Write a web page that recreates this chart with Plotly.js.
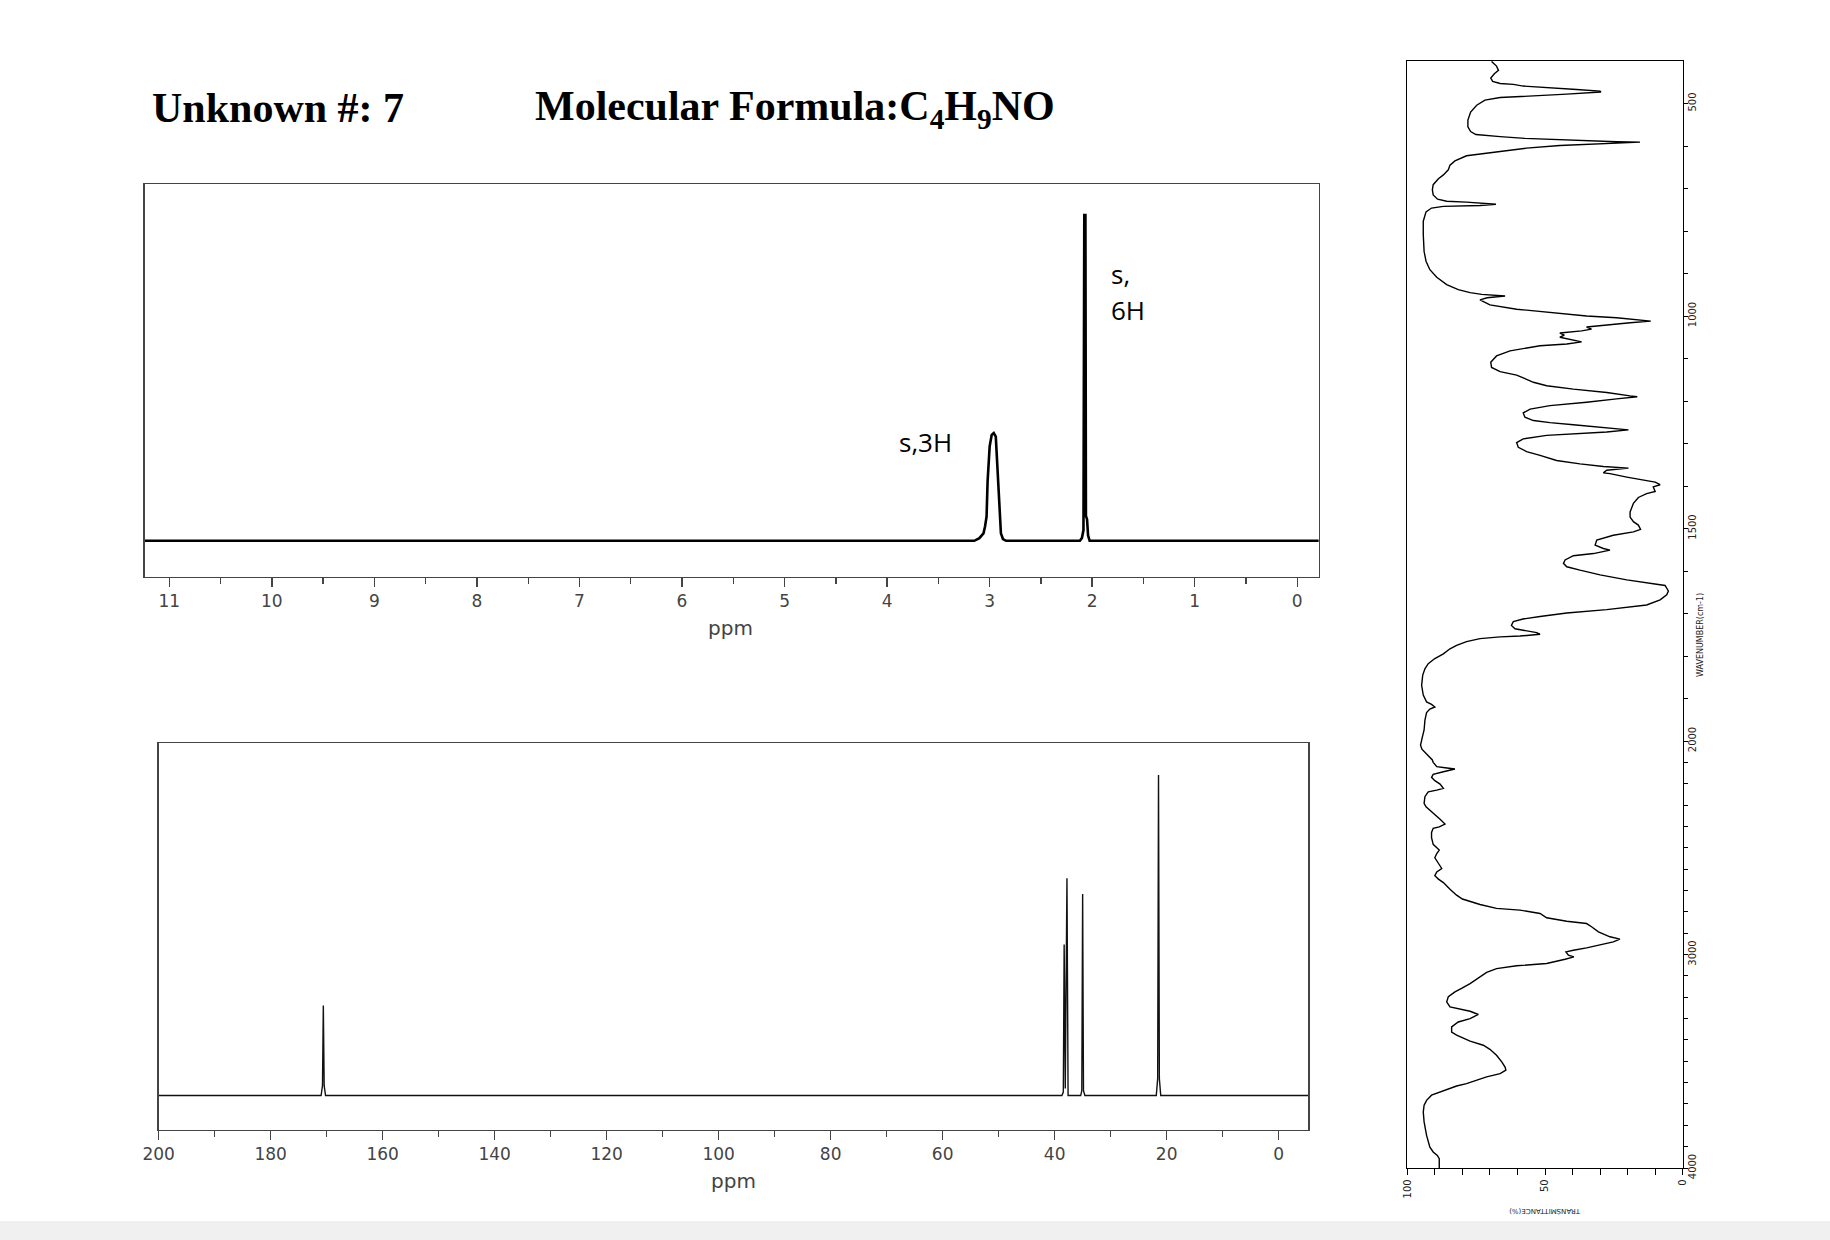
<!DOCTYPE html>
<html><head><meta charset="utf-8">
<script src="https://cdn.plot.ly/plotly-3.0.1.min.js"></script>
<style>html,body{margin:0;padding:0;background:#fff}#chart{width:1830px;height:1240px}</style>
</head><body><div id="chart"></div>
<script>
// ---- 1H NMR ----
const h1Ppm = [11.24, 3.15, 3.10, 3.06, 3.045, 3.03, 3.02, 3.00, 2.98, 2.96, 2.94, 2.92, 2.905, 2.89, 2.87, 2.84,
               2.12, 2.10, 2.085, 2.077, 2.066, 2.061, 2.05, 2.04, 2.025, -0.21];
const h1Int = [0, 0, 0.0075, 0.021, 0.04, 0.068, 0.166, 0.264, 0.297, 0.302, 0.292, 0.18, 0.068, 0.021, 0.005, 0,
               0, 0.008, 0.03, 0.913, 0.913, 0.07, 0.06, 0.015, 0, 0];
const h1TickVals = [0,1,2,3,4,5,6,7,8,9,10,11];
const h1TickText = ['0','1','2','3','4','5','6','7','8','9','10','11'];
const h1Labels = [
  {text:'s,3H', ppm:3.63, y:0.277, anchor:'center'},
  {text:'s,', ppm:1.84, y:0.748, anchor:'left'},
  {text:'6H', ppm:1.84, y:0.646, anchor:'left'}
];

// ---- 13C NMR ----
const c13Ppm = [200, 171.0, 170.75, 170.6, 170.45, 170.2,
                38.7, 38.45, 38.3, 38.1, 37.8, 37.6,
                35.35, 35.15, 35.0, 34.85, 34.6,
                21.85, 21.6, 21.45, 21.3, 21.05, -5.3];
const c13Int = [0, 0, 0.028, 0.256, 0.028, 0,
                0, 0.01, 0.429, 0.02, 0.617, 0,
                0, 0.014, 0.572, 0.014, 0,
                0, 0.048, 0.91, 0.048, 0, 0];
const c13TickVals = [0,20,40,60,80,100,120,140,160,180,200];
const c13TickText = ['0','20','40','60','80','100','120','140','160','180','200'];

// ---- IR ----
const irWavenumber = [401,412,422,430,440,448,453,455,459,463,467,471,473,478,482,486,492,504,520,539,555,566,573,576,578,582,586,588,590,591,595,599,605,613,619,623,635,645,656,668,677,691,703,715,725,730,732,734,737,740,742,746,755,777,809,848,871,891,909,926,938,945,949,953,957,962,968,974,984,992,1000,1004,1012,1016,1020,1026,1031,1035,1040,1045,1050,1056,1061,1066,1070,1082,1094,1109,1121,1131,1139,1156,1164,1172,1180,1188,1190,1195,1203,1211,1219,1228,1238,1246,1251,1256,1262,1266,1268,1273,1277,1281,1289,1298,1309,1319,1328,1340,1348,1354,1358,1363,1369,1371,1379,1387,1391,1397,1402,1413,1418,1427,1441,1461,1473,1484,1492,1502,1508,1516,1527,1539,1547,1551,1559,1564,1574,1582,1590,1598,1609,1621,1629,1634,1647,1656,1668,1680,1691,1699,1707,1713,1719,1728,1736,1741,1745,1749,1753,1755,1759,1766,1775,1783,1795,1806,1818,1830,1845,1869,1892,1908,1914,1920,1925,1933,1951,1974,1998,2019,2038,2053,2073,2089,2100,2120,2125,2131,2144,2156,2170,2186,2202,2222,2230,2238,2261,2292,2308,2323,2342,2366,2389,2402,2409,2428,2453,2484,2511,2527,2547,2573,2597,2613,2631,2647,2663,2694,2722,2740,2755,2766,2784,2792,2808,2828,2844,2855,2870,2894,2917,2928,2941,2956,2969,2980,2988,3003,3011,3022,3031,3042,3053,3066,3084,3105,3136,3159,3175,3198,3222,3245,3256,3266,3281,3300,3316,3339,3363,3378,3406,3425,3444,3472,3503,3527,3542,3558,3573,3589,3605,3616,3628,3644,3659,3683,3706,3738,3784,3847,3902,3925,3941,3956,4000];
const irTransmittance = [69.4,67.6,66.9,68.4,69.7,69.0,66.3,61.5,57.9,45.8,38.5,30.0,29.7,42.1,56.7,66.3,71.8,74.8,77.0,78.0,78.0,77.0,75.1,71.2,66.3,57.3,42.1,30.0,24.0,15.5,30.0,44.6,56.7,66.3,73.6,78.5,82.7,84.5,85.1,86.9,88.7,90.6,90.9,90.6,89.0,85.7,78.5,72.4,67.8,73.6,86.9,91.2,93.2,94.2,94.2,93.9,93.2,91.8,89.3,85.7,81.5,77.2,73.0,64.5,71.0,73.6,72.0,70.0,60.3,48.2,34.9,24.0,11.6,19.1,25.2,34.9,33.1,36.7,44.6,43.0,44.6,40.0,36.7,42.1,51.8,62.7,67.6,69.7,69.4,66.3,60.3,54.2,49.4,39.7,27.6,19.1,16.5,24.0,34.9,48.2,55.4,57.9,57.3,54.2,48.2,39.7,30.0,22.8,19.7,27.6,38.5,49.4,57.9,60.3,59.7,56.7,51.8,45.8,37.3,28.8,19.7,27.6,28.8,26.4,20.3,13.1,10.0,8.2,10.7,10.0,13.1,16.1,17.9,19.1,19.1,17.9,16.1,15.3,17.9,25.2,31.2,31.8,28.8,26.4,32.4,39.7,42.7,43.3,42.1,37.3,30.0,20.3,10.7,6.4,5.2,5.8,8.2,13.1,27.6,42.1,51.8,58.0,61.5,62.2,60.9,56.7,53.0,51.8,59.1,66.3,73.6,78.5,82.1,84.5,86.9,90.0,92.4,93.6,94.4,94.8,94.2,93.0,91.2,90.0,91.8,93.0,93.6,93.9,94.8,95.2,94.7,93.6,92.0,90.9,90.6,89.3,86.3,82.7,86.9,90.6,91.2,90.0,88.1,86.9,89.3,92.4,93.6,93.9,93.2,91.8,90.0,88.1,86.3,88.4,90.6,91.2,91.2,90.6,88.4,89.3,90.0,88.7,87.5,89.3,90.0,88.7,86.9,84.5,82.1,80.0,76.0,73.6,67.6,59.1,51.8,49.4,42.1,34.9,33.1,30.6,26.4,22.8,25.2,30.0,34.9,39.7,42.4,41.5,39.5,42.7,45.8,49.4,60.3,67.6,71.2,73.6,77.2,80.3,82.7,85.1,85.7,84.5,80.9,77.2,74.2,77.2,81.5,83.9,83.9,82.1,77.2,72.4,70.0,67.6,65.7,64.5,64.2,66.3,71.2,74.8,78.5,82.1,84.5,88.1,91.2,93.0,93.9,94.2,93.9,93.0,91.8,90.6,89.1,88.4,88.4];
const irLowTickVals = [500,600,700,800,900,1000,1100,1200,1300,1400,1500,1600,1700,1800,1900];
const irLowTickText = ['500',' ',' ',' ',' ','1000',' ',' ',' ',' ','1500',' ',' ',' ',' '];
const irHighTickVals = [2000,2100,2200,2300,2400,2500,2600,2700,2800,2900,3000,3100,3200,3300,3400,3500,3600,3700,3800,3900,4000];
const irHighTickText = ['2000',' ',' ',' ',' ',' ',' ',' ',' ',' ','3000',' ',' ',' ',' ',' ',' ',' ',' ',' ','4000'];
const irTTickVals = [0,10,20,30,40,50,60,70,80,90,100];
const irTTickText = ['0',' ',' ',' ',' ','50',' ',' ',' ',' ','100'];

const W = 1830, H = 1240;
const px = v => v / W, py = v => 1 - v / H;

const nmrTickFont = {family:'DejaVu Sans', size:17, color:'#444'};
const boxColor = '#444';

const data = [
  {x:h1Ppm, y:h1Int, xaxis:'x', yaxis:'y', mode:'lines', line:{color:'#000', width:2.6}, hoverinfo:'skip'},
  {x:c13Ppm, y:c13Int, xaxis:'x2', yaxis:'y2', mode:'lines', line:{color:'#111', width:1.4}, hoverinfo:'skip'},
  {x:irTransmittance, y:irWavenumber, xaxis:'x3', yaxis:'y3', mode:'lines', line:{color:'#000', width:1.4}, hoverinfo:'skip'},
  {x:irTransmittance, y:irWavenumber, xaxis:'x4', yaxis:'y4', mode:'lines', line:{color:'#000', width:1.4}, hoverinfo:'skip'}
];

const nmrX = (dom, anchor, range, vals, text) => ({
  domain:dom, anchor:anchor, range:range, showgrid:false, zeroline:false,
  showline:true, mirror:true, linecolor:boxColor, linewidth:1.3,
  tickmode:'array', tickvals:vals, ticktext:text, ticks:'outside', ticklen:9, tickwidth:1.4, tickcolor:boxColor,
  tickfont:nmrTickFont,
  minor:{dtick:(vals[1]-vals[0])/2, tick0:0, ticks:'outside', ticklen:6, tickwidth:1.4, tickcolor:boxColor, showgrid:false}
});
const nmrY = (dom, anchor, range) => ({
  domain:dom, anchor:anchor, range:range, showgrid:false, zeroline:false,
  showline:true, mirror:true, linecolor:boxColor, linewidth:1.3, ticks:'', showticklabels:false
});

const irFont = {family:'DejaVu Sans', size:10, color:'#222'};
const irXdom = [px(1407.3), px(1682.7)];

const layout = {
  width:W, height:H, margin:{l:0,r:0,t:0,b:0}, paper_bgcolor:'#fff', plot_bgcolor:'rgba(0,0,0,0)',
  showlegend:false,
  xaxis: nmrX([px(144.7), px(1318.8)], 'y', [11.24, -0.21], h1TickVals, h1TickText),
  yaxis: nmrY([py(576.5), py(184)], 'x', [-0.1, 1]),
  xaxis2: nmrX([px(158.7), px(1308.3)], 'y2', [200, -5.3], c13TickVals, c13TickText),
  yaxis2: nmrY([py(1129.7), py(743.4)], 'x2', [-0.097, 1]),
  xaxis3: {domain:irXdom, anchor:'y3', side:'top', range:[100,0], showgrid:false, zeroline:false,
           showline:true, linecolor:'#000', linewidth:1.3, ticks:'', showticklabels:false},
  yaxis3: {domain:[py(741), py(61)], anchor:'x3', side:'right', range:[2000,400], showgrid:false, zeroline:false,
           showline:true, mirror:true, linecolor:'#000', linewidth:1.3,
           tickmode:'array', tickvals:irLowTickVals, ticktext:irLowTickText, ticks:'outside', ticklen:4, tickwidth:1, tickcolor:'#000',
           tickangle:-90, tickfont:irFont, ticklabelstandoff:-4},
  xaxis4: {domain:irXdom, anchor:'y4', side:'bottom', range:[100,0], showgrid:false, zeroline:false,
           showline:true, linecolor:'#000', linewidth:1.3,
           tickmode:'array', tickvals:irTTickVals, ticktext:irTTickText, ticks:'outside', ticklen:6, tickwidth:1, tickcolor:'#000',
           tickangle:-90, tickfont:irFont},
  yaxis4: {domain:[py(1168), py(741)], anchor:'x4', side:'right', range:[4000,2000], showgrid:false, zeroline:false,
           showline:true, mirror:true, linecolor:'#000', linewidth:1.3,
           tickmode:'array', tickvals:irHighTickVals, ticktext:irHighTickText, ticks:'outside', ticklen:4, tickwidth:1, tickcolor:'#000',
           tickangle:-90, tickfont:irFont, ticklabelstandoff:-4},
  shapes:[
    {type:'rect', xref:'paper', yref:'paper', x0:0, x1:1, y0:0, y1:py(1221), fillcolor:'#f0f0f0', line:{width:0}, layer:'below'}
  ],
  annotations:[
    {xref:'paper', yref:'paper', x:px(150), y:py(108), xanchor:'left', yanchor:'middle', showarrow:false,
     text:'<b>Unknown #: 7</b>', font:{family:'Liberation Serif', size:42, color:'#000'}},
    {xref:'paper', yref:'paper', x:px(533), y:py(109), xanchor:'left', yanchor:'middle', showarrow:false,
     text:'<b>Molecular Formula:C<sub>4</sub>H<sub>9</sub>NO</b>', font:{family:'Liberation Serif', size:42, color:'#000'}},
    {xref:'paper', yref:'paper', x:px(730), y:py(628), xanchor:'center', yanchor:'middle', showarrow:false,
     text:'ppm', font:{family:'DejaVu Sans', size:20, color:'#444'}},
    {xref:'paper', yref:'paper', x:px(733), y:py(1181), xanchor:'center', yanchor:'middle', showarrow:false,
     text:'ppm', font:{family:'DejaVu Sans', size:20, color:'#444'}},
    {xref:'paper', yref:'paper', x:px(1545), y:py(1211), xanchor:'center', yanchor:'middle', showarrow:false,
     text:'TRANSMITTANCE(%)', textangle:180, font:{family:'DejaVu Sans', size:7, color:'#222'}},
    {xref:'paper', yref:'paper', x:px(1700), y:py(635), xanchor:'center', yanchor:'middle', showarrow:false,
     text:'WAVENUMBER(cm-1)', textangle:-90, font:{family:'DejaVu Sans', size:8, color:'#222'}}
  ].concat(h1Labels.map(l => ({
     xref:'x', yref:'y', x:l.ppm, y:l.y, xanchor:l.anchor, yanchor:'middle', showarrow:false,
     text:l.text, font:{family:'Open Sans', size:26, color:'#000'}
  })))
};

Plotly.newPlot('chart', data, layout, {staticPlot:true, displayModeBar:false});
</script>
</body></html>
